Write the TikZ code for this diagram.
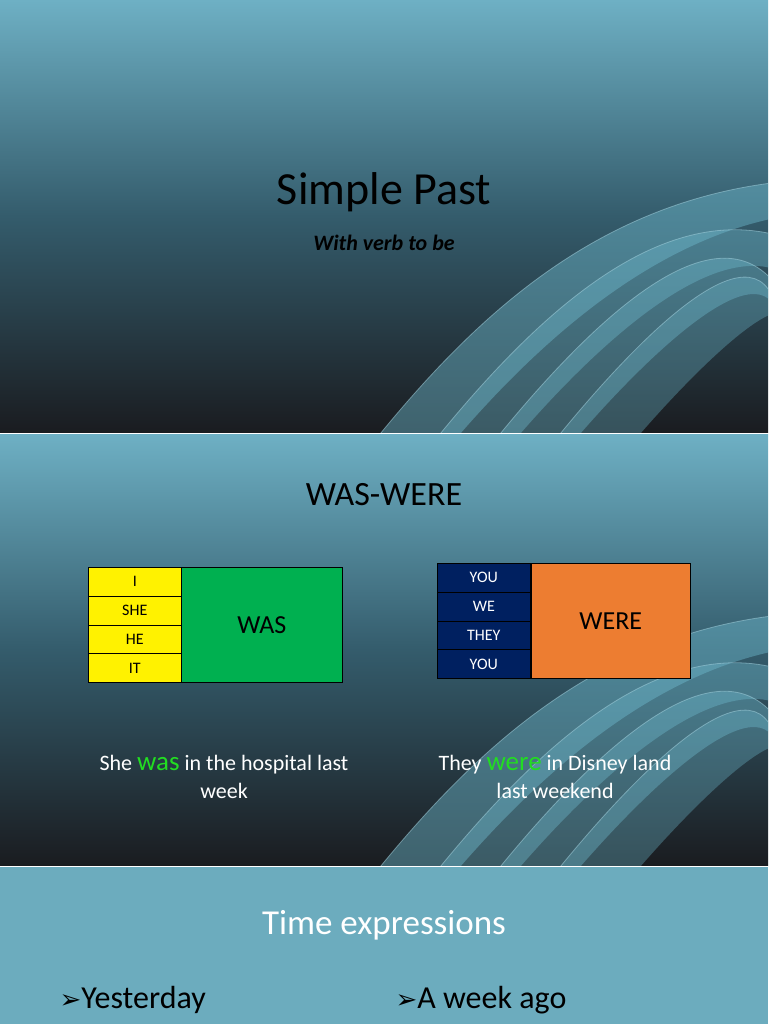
\documentclass[tikz,border=0pt]{standalone}
\usepackage{fontspec}
\setmainfont{Carlito}
\newfontfamily\djv{DejaVu Sans}
\definecolor{bgtop}{RGB}{110,176,196}
\definecolor{bgmid}{RGB}{52,92,108}
\definecolor{bgbot}{RGB}{26,28,32}
\definecolor{bg3}{RGB}{108,172,190}
\definecolor{swc}{RGB}{110,185,205}
\definecolor{cgreen}{RGB}{0,176,80}
\definecolor{cnavy}{RGB}{0,32,96}
\definecolor{corange}{RGB}{237,125,49}
\definecolor{wgreen}{RGB}{34,221,34}
\begin{document}
\begin{tikzpicture}[x=1pt,y=-1pt,
  cell/.style={draw=black,line width=0.6pt,minimum width=93pt,inner sep=0pt,font=\fontsize{16}{16}\selectfont,anchor=north west}]
\useasboundingbox (0,0) rectangle (768,1024);
\fill[white] (0,0) rectangle (768,1024);
\foreach \top/\bot in {0/432,434/865}{
  \begin{scope}
  \clip (0,\top) rectangle (768,\bot);
  \shade[top color=bgtop,bottom color=bgbot,middle color=bgmid] (0,\top) rectangle (768,\bot);
  \foreach \s/\o in {0/0.45,60/0.4,120/0.4,180/0.35}{
    \fill[swc,opacity=\o] (380+\s,\bot+2) .. controls (480+\s,\bot-120) and (600+\s,\bot-230) .. (780,\bot-250+\s*0.9) -- (780,\bot-215+\s*0.9) .. controls (650+\s,\bot-190) and (540+\s,\bot-90) .. (460+\s,\bot+2) -- cycle;
    \draw[swc!60!white,opacity=0.5,line width=0.8pt] (380+\s,\bot+2) .. controls (480+\s,\bot-120) and (600+\s,\bot-230) .. (780,\bot-250+\s*0.9);
  }
  \end{scope}
}
\fill[bg3] (0,867) rectangle (768,1024);
\node (title) at (384,192) {\fontsize{46}{46}\selectfont Simple Past};
\node (sub) at (384,243) {\fontsize{22}{22}\selectfont\bfseries\itshape With verb to be};
\node (ww) at (384,495) {\fontsize{34}{34}\selectfont WAS-WERE};
\foreach \t [count=\i] in {I,SHE,HE,IT}{
  \node[cell,fill=yellow,minimum height=28.75pt] (y\i) at (88,567+28.75*\i-28.75) {\t};}
\node[draw=black,line width=0.6pt,fill=cgreen,minimum width=161pt,minimum height=115pt,anchor=north west,inner sep=0pt] (was) at (181,567) {\fontsize{26}{26}\selectfont WAS};
\foreach \t [count=\i] in {YOU,WE,THEY,YOU}{
  \node[cell,fill=cnavy,text=white,minimum height=28.75pt] (n\i) at (437,563+28.75*\i-28.75) {\t};}
\node[draw=black,line width=0.6pt,fill=corange,minimum width=159pt,minimum height=115pt,anchor=north west,inner sep=0pt] (were) at (531,563) {\fontsize{26}{26}\selectfont WERE};
\node[text=white,align=center,font=\fontsize{22}{28}\selectfont] (s1) at (224,777) {She {\fontsize{27}{27}\selectfont\color{wgreen}was} in the hospital last\\week};
\node[text=white,align=center,font=\fontsize{22}{28}\selectfont] (s2) at (555,777) {They {\fontsize{27}{27}\selectfont\color{wgreen}were} in Disney land\\last weekend};
\node[text=white] (te) at (384,925) {\fontsize{35}{35}\selectfont Time expressions};
\node[anchor=west] (yd) at (56,1000) {\fontsize{32}{32}\selectfont{\djv\fontsize{26}{26}\selectfont ➢}Yesterday};
\node[anchor=west] (wa) at (392,1000) {\fontsize{32}{32}\selectfont{\djv\fontsize{26}{26}\selectfont ➢}A week ago};
\end{tikzpicture}
\end{document}
